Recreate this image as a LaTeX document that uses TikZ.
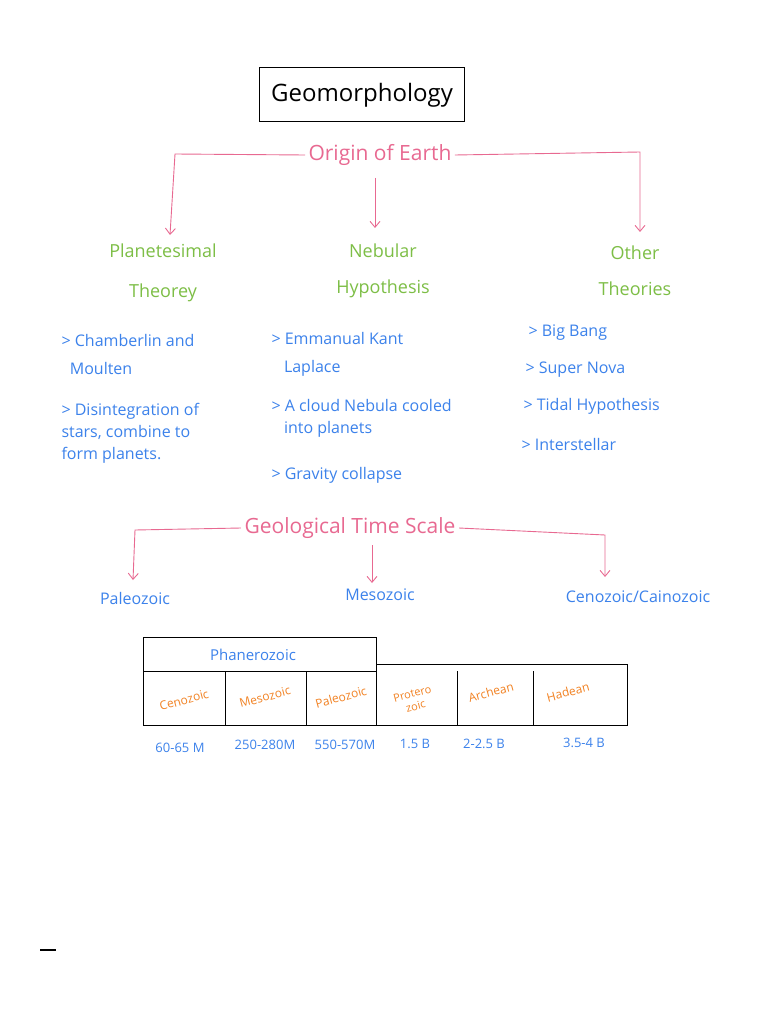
\documentclass[tikz,border=0pt]{standalone}
\usepackage{fontspec}
\setmainfont{Open Sans}
\begin{document}
\begin{tikzpicture}[x=1pt,y=-1pt,
  pk/.style={draw=pinkc,line width=0.9pt,-{Straight Barb[length=6pt,width=10pt]}},
  ptxt/.style={text=pinkc,font=\fontsize{21}{22}\selectfont},
  gtxt/.style={text=greenc,font=\fontsize{18}{20}\selectfont,align=center},
  btxt/.style={text=bluec,font=\fontsize{16}{28}\selectfont,anchor=west,align=left},
  otxt/.style={text=orangec,font=\fontsize{12}{11}\selectfont,rotate=15,align=center},
  ytxt/.style={text=bluec,font=\fontsize{13}{14}\selectfont},
  cell/.style={draw=black,line width=0.8pt}]
\definecolor{pinkc}{RGB}{232,105,145}
\definecolor{greenc}{RGB}{125,190,70}
\definecolor{bluec}{RGB}{60,130,235}
\definecolor{orangec}{RGB}{242,130,35}
\usetikzlibrary{arrows.meta}
\fill[white] (0,0) rectangle (768,1024);
\useasboundingbox (0,0) rectangle (768,1024);
\node[draw,line width=1pt,minimum width=205pt,minimum height=54pt,font=\fontsize{24}{24}\selectfont] (title) at (362,95) {Geomorphology};
\node[ptxt] (origin) at (380,155) {Origin of Earth};
\coordinate (l1) at (175,154); \coordinate (r1) at (640,152);
\draw[pk] (origin.west) -- (l1) -- (170,235);
\draw[pk] (375,178) -- (375,228);
\draw[pk] (origin.east) -- (r1) -- (640,232);
\node[gtxt] (pl) at (163,273) {Planetesimal\\[20pt]Theorey};
\node[gtxt] (nb) at (383,271) {Nebular\\[16pt]Hypothesis};
\node[gtxt] (ot) at (635,271) {Other\\[16pt]Theories};
\node[btxt] (p1) at (58,354) {> Chamberlin and\\ \ \ Moulten};
\node[btxt] (p2) at (58,433) {> Disintegration of\\[-6pt] stars, combine to\\[-6pt] form planets.};
\node[btxt] (n1) at (268,354) {> Emmanual Kant\\ \ \ \ Laplace};
\node[btxt] (n2) at (268,418) {> A cloud Nebula cooled\\[-6pt] \ \ \ into planets};
\node[btxt] (n3) at (268,475) {> Gravity collapse};
\node[btxt] (o1) at (525,333) {> Big Bang};
\node[btxt] (o2) at (522,370) {> Super Nova};
\node[btxt] (o3) at (520,406) {> Tidal Hypothesis};
\node[btxt] (o4) at (518,444) {> Interstellar};
\node[ptxt] (gts) at (350,528) {Geological Time Scale};
\coordinate (l2) at (135,530); \coordinate (r2) at (605,535);
\draw[pk] (gts.west) -- (l2) -- (133,580);
\draw[pk] (372,545) -- (372,583);
\draw[pk] (gts.east) -- (r2) -- (605,577);
\node[btxt,anchor=center] (pz) at (135,598) {Paleozoic};
\node[btxt,anchor=center] (mz) at (380,595) {Mesozoic};
\node[btxt,anchor=center] (cz) at (638,597) {Cenozoic/Cainozoic};
\draw[cell] (143,637) rectangle (376,671);
\node[text=bluec,font=\fontsize{15}{16}\selectfont] (ph) at (253,655) {Phanerozoic};
\draw[cell] (143,671) -- (143,725) -- (627,725) -- (627,664) -- (376,664) -- (376,671);
\foreach \x in {225,306,376,457,533} \draw[cell] (\x,671) -- (\x,725);
\node[otxt] (c1) at (184,700) {Cenozoic};
\node[otxt] (c2) at (265,697) {Mesozoic};
\node[otxt] (c3) at (341,697) {Paleozoic};
\node[otxt,font=\fontsize{11}{13}\selectfont] (c4) at (414,700) {Protero\\zoic};
\node[otxt] (c5) at (491,692) {Archean};
\node[otxt] (c6) at (568,692) {Hadean};
\node[ytxt] (y1) at (180,748) {60-65 M};
\node[ytxt] (y2) at (265,745) {250-280M};
\node[ytxt] (y3) at (345,745) {550-570M};
\node[ytxt] (y4) at (415,744) {1.5 B};
\node[ytxt] (y5) at (484,744) {2-2.5 B};
\node[ytxt] (y6) at (584,743) {3.5-4 B};
\draw[line width=1.5pt] (40,950) -- (56,950);
\end{tikzpicture}
\end{document}
